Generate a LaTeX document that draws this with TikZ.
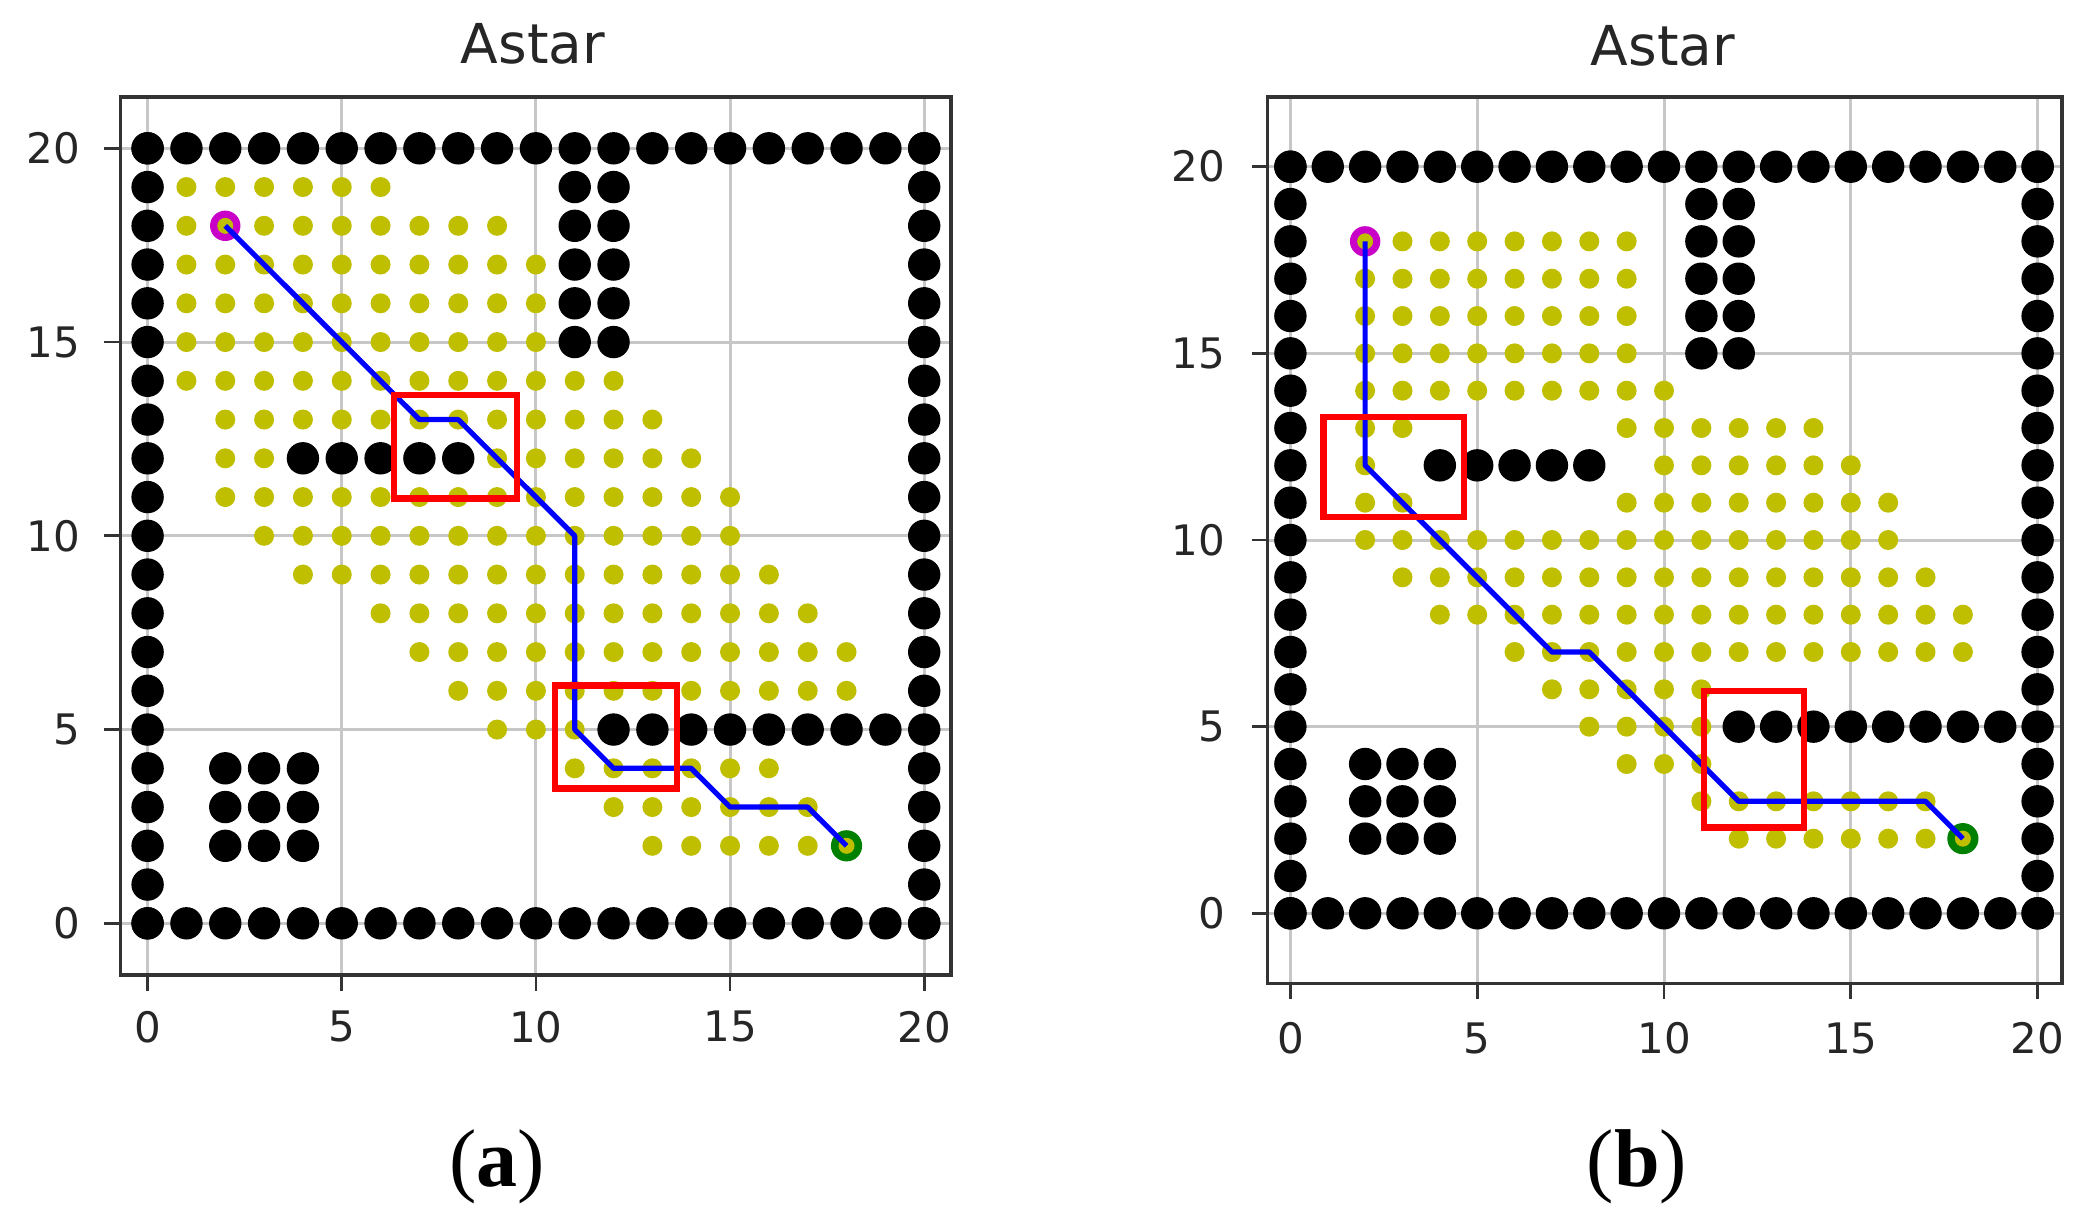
\documentclass[tikz,border=0pt]{standalone}
\usepackage{fontspec}
\newfontfamily\dvsans{DejaVu Sans}
\newfontfamily\lserif{Liberation Serif}
\definecolor{ydot}{RGB}{191,191,0}
\definecolor{mstart}{RGB}{200,0,200}
\definecolor{ggoal}{RGB}{0,128,0}
\definecolor{pblue}{RGB}{0,0,255}
\definecolor{rbox}{RGB}{255,0,0}
\tikzset{
  gridline/.style={draw=black!22, line width=1.5pt},
  frameline/.style={draw=black!80, line width=1.8pt},
  tickline/.style={draw=black!80, line width=1.4pt},
  ticklab/.style={font=\dvsans\fontsize{21}{21}\selectfont, inner sep=0pt, text=black!85},
  titlelab/.style={font=\dvsans\fontsize{27.5}{27.5}\selectfont, inner sep=0pt, text=black!85},
  sublab/.style={font=\lserif\fontsize{41}{41}\selectfont, inner sep=0pt},
  blkdot/.style={fill=black},
  ylwdot/.style={fill=ydot},
  pathline/.style={draw=pblue, line width=2.6pt, line join=round},
  redbox/.style={draw=rbox, line width=3.3pt},
}
\newcommand\drawaxesbox[5]{%
  \foreach \g in {0,5,...,20}{
    \draw[gridline] (\g,#3) -- (\g,#4);
    \draw[gridline] (#1,\g) -- (#2,\g);
  }
}
\newcommand\drawframebox[5]{%
  \draw[frameline] (#1,#3) rectangle (#2,#4);
  \foreach \g in {0,5,...,20}{
    \draw[tickline] (\g,#3) -- ++(0,-8pt);
    \draw[tickline] (#1,\g) -- ++(-8pt,0);
  }
}
\newcommand\drawobstacles{%
  \foreach \i in {0,...,20}{
    \fill[blkdot] (\i,0) circle[radius=8.1pt];
    \fill[blkdot] (\i,20) circle[radius=8.1pt];
    \fill[blkdot] (0,\i) circle[radius=8.1pt];
    \fill[blkdot] (20,\i) circle[radius=8.1pt];
  }
  \foreach \r in {15,...,19}{
    \fill[blkdot] (11,\r) circle[radius=8.1pt];
    \fill[blkdot] (12,\r) circle[radius=8.1pt];
  }
  \foreach \c in {4,...,8}{\fill[blkdot] (\c,12) circle[radius=8.1pt];}
  \foreach \c in {12,...,19}{\fill[blkdot] (\c,5) circle[radius=8.1pt];}
  \foreach \c in {2,3,4}{\foreach \r in {2,3,4}{\fill[blkdot] (\c,\r) circle[radius=8.1pt];}}
}
\begin{document}
\begin{tikzpicture}[x=0.5pt,y=-0.5pt]
\useasboundingbox (0,0) rectangle (2094,1228);
\fill[white] (0,0) rectangle (2094,1228);

% ---------------- panel (a) ----------------
\node[titlelab] (ta) at (533,44) {Astar};
\node[sublab] (la) at (497,1167) {(\textbf{a})};
\begin{scope}[shift={(147.6,923.3)}, x=19.415pt, y=19.375pt]
  \drawaxesbox{-0.70}{20.69}{-1.33}{21.32}{a}
  \drawobstacles
  \foreach \r/\xs in {
    19/{1,...,6}, 18/{1,...,9}, 17/{1,...,10}, 16/{1,...,10}, 15/{1,...,10},
    14/{1,...,12}, 13/{2,...,13}, 12/{2,3,9,10,11,12,13,14}, 11/{2,...,15},
    10/{3,...,15}, 9/{4,...,16}, 8/{6,...,17}, 7/{7,...,18}, 6/{8,...,18},
    5/{9,10,11}, 4/{11,...,16}, 3/{12,...,17}, 2/{13,...,18}}
  {\foreach \c in \xs {\fill[ylwdot] (\c,\r) circle[radius=5pt];}}
  \fill[mstart] (2,18) circle[radius=7.6pt];
  \fill[ydot] (2,18) circle[radius=4pt];
  \fill[ggoal] (18,2) circle[radius=7.8pt];
  \fill[ydot] (18,2) circle[radius=4pt];
  \coordinate (sa) at (2,18);
  \coordinate (ga) at (18,2);
  \draw[pathline] (sa) -- (7,13) -- (8,13) -- (11,10) -- (11,5) -- (12,4) -- (14,4) -- (15,3) -- (17,3) -- (ga);
  \draw[redbox] (6.35,10.97) rectangle (9.51,13.63);
  \draw[redbox] (10.49,3.48) rectangle (13.63,6.13);
  \drawframebox{-0.70}{20.69}{-1.33}{21.32}{a}
  \foreach \g in {0,5,...,20}{
    \path (\g,-1.33) ++(0,-26pt) node[ticklab] (xa\g) {\g};
    \path (-0.70,\g) ++(-20pt,0) node[ticklab,anchor=east] (ya\g) {\g};
  }
\end{scope}

% ---------------- panel (b) ----------------
\node[titlelab] (tb) at (1663,46) {Astar};
\node[sublab] (lb) at (1637,1167) {(\textbf{b})};
\begin{scope}[shift={(1290.4,913.3)}, x=18.68pt, y=18.665pt]
  \drawaxesbox{-0.61}{20.65}{-1.875}{21.86}{b}
  \drawobstacles
  \foreach \r/\xs in {
    18/{2,...,9}, 17/{2,...,9}, 16/{2,...,9}, 15/{2,...,9}, 14/{2,...,10},
    13/{2,3,9,10,11,12,13,14}, 12/{2,10,11,12,13,14,15},
    11/{2,3,9,10,11,12,13,14,15,16}, 10/{2,...,16}, 9/{3,...,17},
    8/{4,...,18}, 7/{6,...,18}, 6/{7,...,11}, 5/{8,...,11}, 4/{9,10,11},
    3/{11,...,17}, 2/{12,...,18}}
  {\foreach \c in \xs {\fill[ylwdot] (\c,\r) circle[radius=5pt];}}
  \fill[mstart] (2,18) circle[radius=7.6pt];
  \fill[ydot] (2,18) circle[radius=4pt];
  \fill[ggoal] (18,2) circle[radius=7.8pt];
  \fill[ydot] (18,2) circle[radius=4pt];
  \coordinate (sb) at (2,18);
  \coordinate (gb) at (18,2);
  \draw[pathline] (sb) -- (2,12) -- (7,7) -- (8,7) -- (12,3) -- (17,3) -- (gb);
  \draw[redbox] (0.88,10.62) rectangle (4.65,13.29);
  \draw[redbox] (11.07,2.30) rectangle (13.75,5.96);
  \drawframebox{-0.61}{20.65}{-1.875}{21.86}{b}
  \foreach \g in {0,5,...,20}{
    \path (\g,-1.875) ++(0,-27.5pt) node[ticklab] (xb\g) {\g};
    \path (-0.61,\g) ++(-21pt,0) node[ticklab,anchor=east] (yb\g) {\g};
  }
\end{scope}
\end{tikzpicture}
\end{document}
